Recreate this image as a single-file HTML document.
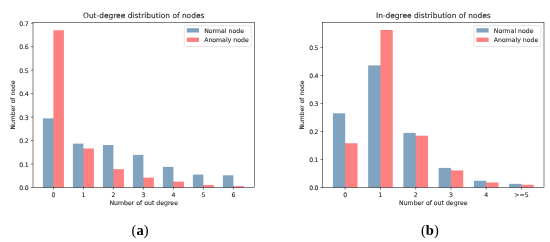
<!DOCTYPE html>
<html><head><meta charset="utf-8"><title>Degree distribution of nodes</title>
<style>
html,body{margin:0;padding:0;background:#fff;}
body{width:550px;height:242px;overflow:hidden;position:relative;}
svg{position:absolute;left:0;top:0;display:block;}
svg text{font-family:"DejaVu Sans", "Liberation Sans", sans-serif;fill:#1a1a1a;stroke:#1a1a1a;stroke-width:0.08px;}
.cap{position:absolute;top:221px;width:40px;text-align:center;font-family:"Liberation Serif","DejaVu Serif",serif;font-size:14.5px;line-height:18px;color:#000;}
.cap b{font-weight:bold;}
</style></head><body>
<svg width="550" height="242" viewBox="0 0 550 242">
<rect x="52.40" y="118.38" width="2" height="69.12" fill="#80a4bf"/>
<rect x="42.90" y="118.38" width="10.50" height="69.12" fill="#80a4bf"/>
<rect x="53.40" y="30.25" width="10.50" height="157.25" fill="#ff8080"/>
<rect x="82.40" y="148.54" width="2" height="38.96" fill="#80a4bf"/>
<rect x="72.90" y="143.61" width="10.50" height="43.89" fill="#80a4bf"/>
<rect x="83.40" y="148.54" width="10.50" height="38.96" fill="#ff8080"/>
<rect x="112.40" y="169.19" width="2" height="18.31" fill="#80a4bf"/>
<rect x="102.90" y="145.02" width="10.50" height="42.48" fill="#80a4bf"/>
<rect x="113.40" y="169.19" width="10.50" height="18.31" fill="#ff8080"/>
<rect x="142.40" y="177.64" width="2" height="9.86" fill="#80a4bf"/>
<rect x="132.90" y="154.88" width="10.50" height="32.62" fill="#80a4bf"/>
<rect x="143.40" y="177.64" width="10.50" height="9.86" fill="#ff8080"/>
<rect x="172.40" y="181.63" width="2" height="5.87" fill="#80a4bf"/>
<rect x="162.90" y="166.85" width="10.50" height="20.65" fill="#80a4bf"/>
<rect x="173.40" y="181.63" width="10.50" height="5.87" fill="#ff8080"/>
<rect x="202.40" y="184.92" width="2" height="2.58" fill="#80a4bf"/>
<rect x="192.90" y="174.59" width="10.50" height="12.91" fill="#80a4bf"/>
<rect x="203.40" y="184.92" width="10.50" height="2.58" fill="#ff8080"/>
<rect x="232.40" y="186.09" width="2" height="1.41" fill="#80a4bf"/>
<rect x="222.90" y="175.30" width="10.50" height="12.20" fill="#80a4bf"/>
<rect x="233.40" y="186.09" width="10.50" height="1.41" fill="#ff8080"/>
<rect x="33.00" y="22.60" width="221.40" height="164.90" fill="none" stroke="#000" stroke-width="0.5"/>
<line x1="53.40" y1="187.50" x2="53.40" y2="189.67" stroke="#000" stroke-width="0.5"/>
<text x="53.40" y="196.50" font-size="6.2" text-anchor="middle">0</text>
<line x1="83.40" y1="187.50" x2="83.40" y2="189.67" stroke="#000" stroke-width="0.5"/>
<text x="83.40" y="196.50" font-size="6.2" text-anchor="middle">1</text>
<line x1="113.40" y1="187.50" x2="113.40" y2="189.67" stroke="#000" stroke-width="0.5"/>
<text x="113.40" y="196.50" font-size="6.2" text-anchor="middle">2</text>
<line x1="143.40" y1="187.50" x2="143.40" y2="189.67" stroke="#000" stroke-width="0.5"/>
<text x="143.40" y="196.50" font-size="6.2" text-anchor="middle">3</text>
<line x1="173.40" y1="187.50" x2="173.40" y2="189.67" stroke="#000" stroke-width="0.5"/>
<text x="173.40" y="196.50" font-size="6.2" text-anchor="middle">4</text>
<line x1="203.40" y1="187.50" x2="203.40" y2="189.67" stroke="#000" stroke-width="0.5"/>
<text x="203.40" y="196.50" font-size="6.2" text-anchor="middle">5</text>
<line x1="233.40" y1="187.50" x2="233.40" y2="189.67" stroke="#000" stroke-width="0.5"/>
<text x="233.40" y="196.50" font-size="6.2" text-anchor="middle">6</text>
<line x1="30.83" y1="187.50" x2="33.00" y2="187.50" stroke="#000" stroke-width="0.5"/>
<text x="28.40" y="190.10" font-size="6.2" text-anchor="end" letter-spacing="-0.2">0.0</text>
<line x1="30.83" y1="164.03" x2="33.00" y2="164.03" stroke="#000" stroke-width="0.5"/>
<text x="28.40" y="166.63" font-size="6.2" text-anchor="end" letter-spacing="-0.2">0.1</text>
<line x1="30.83" y1="140.56" x2="33.00" y2="140.56" stroke="#000" stroke-width="0.5"/>
<text x="28.40" y="143.16" font-size="6.2" text-anchor="end" letter-spacing="-0.2">0.2</text>
<line x1="30.83" y1="117.09" x2="33.00" y2="117.09" stroke="#000" stroke-width="0.5"/>
<text x="28.40" y="119.69" font-size="6.2" text-anchor="end" letter-spacing="-0.2">0.3</text>
<line x1="30.83" y1="93.62" x2="33.00" y2="93.62" stroke="#000" stroke-width="0.5"/>
<text x="28.40" y="96.22" font-size="6.2" text-anchor="end" letter-spacing="-0.2">0.4</text>
<line x1="30.83" y1="70.15" x2="33.00" y2="70.15" stroke="#000" stroke-width="0.5"/>
<text x="28.40" y="72.75" font-size="6.2" text-anchor="end" letter-spacing="-0.2">0.5</text>
<line x1="30.83" y1="46.68" x2="33.00" y2="46.68" stroke="#000" stroke-width="0.5"/>
<text x="28.40" y="49.28" font-size="6.2" text-anchor="end" letter-spacing="-0.2">0.6</text>
<line x1="30.83" y1="23.21" x2="33.00" y2="23.21" stroke="#000" stroke-width="0.5"/>
<text x="28.40" y="25.81" font-size="6.2" text-anchor="end" letter-spacing="-0.2">0.7</text>
<text x="143.70" y="18.40" font-size="7.44" text-anchor="middle">Out-degree distribution of nodes</text>
<text x="143.70" y="205.10" font-size="6.2" text-anchor="middle">Number of out degree</text>
<text transform="translate(14.60,105.05) rotate(-90)" font-size="6.06" text-anchor="middle">Number of node</text>
<rect x="184.30" y="25.70" width="67.00" height="20.90" rx="1.2" fill="#fff" fill-opacity="0.8" stroke="#ccc" stroke-width="0.5"/>
<rect x="186.80" y="28.20" width="12.2" height="4.34" fill="#80a4bf"/>
<rect x="186.80" y="37.60" width="12.2" height="4.34" fill="#ff8080"/>
<text x="204.16" y="32.80" font-size="6.2">Normal node</text>
<text x="204.16" y="42.10" font-size="6.2">Anomaly node</text>
<rect x="344.20" y="143.26" width="2" height="44.24" fill="#80a4bf"/>
<rect x="332.90" y="113.30" width="12.30" height="74.20" fill="#80a4bf"/>
<rect x="345.20" y="143.26" width="12.30" height="44.24" fill="#ff8080"/>
<rect x="379.45" y="65.42" width="2" height="122.08" fill="#80a4bf"/>
<rect x="368.15" y="65.42" width="12.30" height="122.08" fill="#80a4bf"/>
<rect x="380.45" y="30.00" width="12.30" height="157.50" fill="#ff8080"/>
<rect x="414.70" y="135.70" width="2" height="51.80" fill="#80a4bf"/>
<rect x="403.40" y="132.90" width="12.30" height="54.60" fill="#80a4bf"/>
<rect x="415.70" y="135.70" width="12.30" height="51.80" fill="#ff8080"/>
<rect x="449.95" y="170.42" width="2" height="17.08" fill="#80a4bf"/>
<rect x="438.65" y="167.90" width="12.30" height="19.60" fill="#80a4bf"/>
<rect x="450.95" y="170.42" width="12.30" height="17.08" fill="#ff8080"/>
<rect x="485.20" y="182.46" width="2" height="5.04" fill="#80a4bf"/>
<rect x="473.90" y="180.78" width="12.30" height="6.72" fill="#80a4bf"/>
<rect x="486.20" y="182.46" width="12.30" height="5.04" fill="#ff8080"/>
<rect x="520.45" y="184.70" width="2" height="2.80" fill="#80a4bf"/>
<rect x="509.15" y="183.86" width="12.30" height="3.64" fill="#80a4bf"/>
<rect x="521.45" y="184.70" width="12.30" height="2.80" fill="#ff8080"/>
<rect x="322.70" y="22.60" width="221.30" height="164.90" fill="none" stroke="#000" stroke-width="0.5"/>
<line x1="345.20" y1="187.50" x2="345.20" y2="189.67" stroke="#000" stroke-width="0.5"/>
<text x="345.20" y="196.50" font-size="6.2" text-anchor="middle">0</text>
<line x1="380.45" y1="187.50" x2="380.45" y2="189.67" stroke="#000" stroke-width="0.5"/>
<text x="380.45" y="196.50" font-size="6.2" text-anchor="middle">1</text>
<line x1="415.70" y1="187.50" x2="415.70" y2="189.67" stroke="#000" stroke-width="0.5"/>
<text x="415.70" y="196.50" font-size="6.2" text-anchor="middle">2</text>
<line x1="450.95" y1="187.50" x2="450.95" y2="189.67" stroke="#000" stroke-width="0.5"/>
<text x="450.95" y="196.50" font-size="6.2" text-anchor="middle">3</text>
<line x1="486.20" y1="187.50" x2="486.20" y2="189.67" stroke="#000" stroke-width="0.5"/>
<text x="486.20" y="196.50" font-size="6.2" text-anchor="middle">4</text>
<line x1="521.45" y1="187.50" x2="521.45" y2="189.67" stroke="#000" stroke-width="0.5"/>
<text x="521.45" y="196.50" font-size="6.2" text-anchor="middle">&gt;=5</text>
<line x1="320.53" y1="187.50" x2="322.70" y2="187.50" stroke="#000" stroke-width="0.5"/>
<text x="318.00" y="189.80" font-size="6.2" text-anchor="end" letter-spacing="-0.4">0.0</text>
<line x1="320.53" y1="159.50" x2="322.70" y2="159.50" stroke="#000" stroke-width="0.5"/>
<text x="318.00" y="161.80" font-size="6.2" text-anchor="end" letter-spacing="-0.4">0.1</text>
<line x1="320.53" y1="131.50" x2="322.70" y2="131.50" stroke="#000" stroke-width="0.5"/>
<text x="318.00" y="133.80" font-size="6.2" text-anchor="end" letter-spacing="-0.4">0.2</text>
<line x1="320.53" y1="103.50" x2="322.70" y2="103.50" stroke="#000" stroke-width="0.5"/>
<text x="318.00" y="105.80" font-size="6.2" text-anchor="end" letter-spacing="-0.4">0.3</text>
<line x1="320.53" y1="75.50" x2="322.70" y2="75.50" stroke="#000" stroke-width="0.5"/>
<text x="318.00" y="77.80" font-size="6.2" text-anchor="end" letter-spacing="-0.4">0.4</text>
<line x1="320.53" y1="47.50" x2="322.70" y2="47.50" stroke="#000" stroke-width="0.5"/>
<text x="318.00" y="49.80" font-size="6.2" text-anchor="end" letter-spacing="-0.4">0.5</text>
<text x="433.35" y="18.40" font-size="7.44" text-anchor="middle">In-degree distribution of nodes</text>
<text x="433.35" y="205.10" font-size="6.2" text-anchor="middle">Number of out degree</text>
<text transform="translate(304.30,105.05) rotate(-90)" font-size="6.06" text-anchor="middle">Number of node</text>
<rect x="473.90" y="25.70" width="67.00" height="20.90" rx="1.2" fill="#fff" fill-opacity="0.8" stroke="#ccc" stroke-width="0.5"/>
<rect x="476.40" y="28.20" width="12.2" height="4.34" fill="#80a4bf"/>
<rect x="476.40" y="37.60" width="12.2" height="4.34" fill="#ff8080"/>
<text x="493.76" y="32.80" font-size="6.2">Normal node</text>
<text x="493.76" y="42.10" font-size="6.2">Anomaly node</text>
</svg>
<div class="cap" style="left:120.0px">(<b>a</b>)</div>
<div class="cap" style="left:409.9px">(<b>b</b>)</div>
</body></html>
